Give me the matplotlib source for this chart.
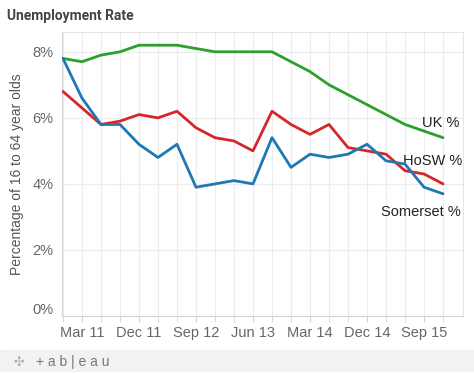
import numpy as np
import matplotlib.pyplot as plt
import matplotlib.transforms as mtrans
from matplotlib.ticker import FuncFormatter

plt.rcParams['font.family'] = ['Liberation Sans', 'DejaVu Sans']

# quarterly, Dec 10 .. Dec 15
quarters = ['Dec 10', 'Mar 11', 'Jun 11', 'Sep 11', 'Dec 11', 'Mar 12', 'Jun 12',
            'Sep 12', 'Dec 12', 'Mar 13', 'Jun 13', 'Sep 13', 'Dec 13', 'Mar 14',
            'Jun 14', 'Sep 14', 'Dec 14', 'Mar 15', 'Jun 15', 'Sep 15', 'Dec 15']
uk = [7.8, 7.7, 7.9, 8.0, 8.2, 8.2, 8.2, 8.1, 8.0, 8.0, 8.0, 8.0, 7.7, 7.4,
      7.0, 6.7, 6.4, 6.1, 5.8, 5.6, 5.4]
hosw = [6.8, 6.3, 5.8, 5.9, 6.1, 6.0, 6.2, 5.7, 5.4, 5.3, 5.0, 6.2, 5.8, 5.5,
        5.8, 5.1, 5.0, 4.9, 4.4, 4.3, 4.0]
somerset = [7.8, 6.6, 5.8, 5.8, 5.2, 4.8, 5.2, 3.9, 4.0, 4.1, 4.0, 5.4, 4.5, 4.9,
            4.8, 4.9, 5.2, 4.7, 4.6, 3.9, 3.7]
tick_labels = ['Mar 11', 'Dec 11', 'Sep 12', 'Jun 13', 'Mar 14', 'Dec 14', 'Sep 15']

x = np.arange(len(quarters))

fig = plt.figure(figsize=(4.74, 3.74), dpi=100)
ax = fig.add_axes([62 / 474, 58 / 374, 401 / 474, 284 / 374])

ax.plot(x, uk, color='#2ca02c', lw=2.0, solid_capstyle='round', zorder=3)
ax.plot(x, hosw, color='#d62728', lw=2.0, solid_capstyle='round', zorder=3)
ax.plot(x, somerset, color='#1f77b4', lw=2.0, solid_capstyle='round', zorder=4)

ax.set_xlim(-0.05, 21.05)
ax.set_ylim(0, 8.6)

ax.set_xticks(x, minor=True)
ax.set_xticks([quarters.index(t) for t in tick_labels])
ax.set_xticklabels(tick_labels)
ax.set_yticks([0, 2, 4, 6, 8])
ax.yaxis.set_major_formatter(FuncFormatter(lambda v, p: f'{int(v)}%'))

ax.grid(True, which='both', axis='x', color='#ececec', lw=0.8, zorder=0)
ax.grid(True, which='major', axis='y', color='#ececec', lw=0.8, zorder=0)
ax.set_axisbelow(True)

for s in ['top', 'right']:
    ax.spines[s].set_color('#e6e6e6')
for s in ['left', 'bottom']:
    ax.spines[s].set_color('#d4d4d4')

ax.tick_params(axis='x', which='both', length=4, color='#d4d4d4',
               labelsize=10.5, labelcolor='#666666', pad=3)
ax.tick_params(axis='y', length=0, labelsize=10.5, labelcolor='#666666', pad=6)
fig.canvas.draw()
lab0 = ax.get_yticklabels()[0]
lab0.set_transform(lab0.get_transform() + mtrans.ScaledTranslation(0, 8 / 100, fig.dpi_scale_trans))

ax.set_ylabel('Percentage of 16 to 64 year olds', fontsize=10, color='#555555',
              labelpad=6)

ax.text(20.85, 5.85, 'UK %', fontsize=10.5, color='#222222', ha='right', va='center')
ax.text(21.0, 4.7, 'HoSW %', fontsize=10.5, color='#222222', ha='right', va='center')
ax.text(20.95, 3.15, 'Somerset %', fontsize=10.5, color='#222222', ha='right', va='center')

fig.text(7 / 474, 1 - 16 / 374, 'Unemployment Rate', fontsize=10, fontweight='bold',
         family=['Roboto', 'DejaVu Sans'], color='#444444', va='center', ha='left')

# tableau footer
fig.patches.append(plt.Rectangle((0, 3 / 374), 1, 21 / 374, transform=fig.transFigure,
                                 color='#f2f2f2', zorder=0))
fig.text(14 / 474, 12 / 374, '✣', fontsize=9, color='#aaaaaa', va='center', ha='left',
         family=['DejaVu Sans'])
fig.text(36 / 474, 12 / 374, '+ a b | e a u', fontsize=10, color='#777777',
         va='center', ha='left')

fig.savefig('out.png', dpi=100)
